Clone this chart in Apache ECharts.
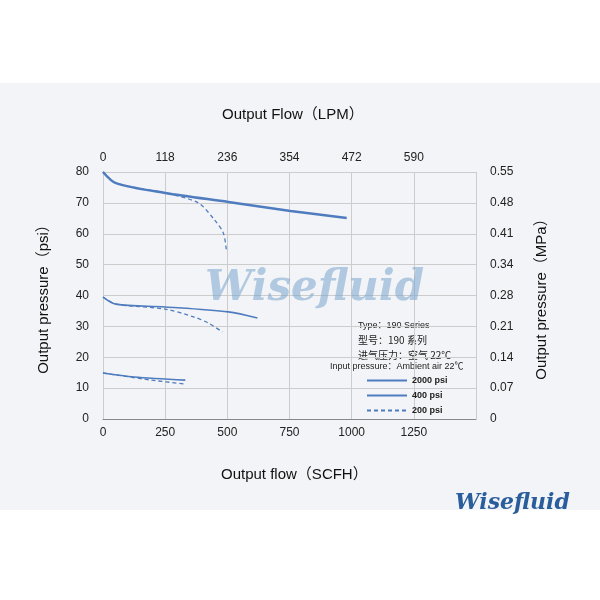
<!DOCTYPE html><html><head><meta charset="utf-8"><script src="https://cdn.jsdelivr.net/npm/echarts@6/dist/echarts.min.js"></script></head><body style="margin:0;background:#fff"><div id="c" style="width:600px;height:600px"></div><script>
const xTicksLPM=['0','118','236','354','472','590',''];
const mpaLabels=['0','0.07','0.14','0.21','0.28','0.34','0.41','0.48','0.55'];
const s2000solid=[[0,80],[52,76.4],[250,73.2],[504,70.3],[754,67.4],[980,65.1]];
const s2000dash=[[0,80],[52,76.4],[250,73.2],[383,70],[448,64.5],[484,60.2],[496,54.7]];
const s400solid=[[0,39.5],[52,37.2],[250,36.3],[504,34.7],[621,32.7]];
const s400dash=[[0,39.5],[52,37.2],[250,35.6],[367,33],[423,31.1],[480,28.2]];
const s200solid=[[0,14.9],[125,13.6],[331,12.6]];
const s200dash=[[0,14.9],[194,12.6],[335,11.3]];
const C='#4f7cbf';
const F='"Liberation Sans","Noto Sans CJK SC"';
const ch=echarts.init(document.getElementById('c'));
const ln=(name,d,w,dash)=>({name,type:'line',data:d,smooth:0.3,symbol:'none',lineStyle:{color:C,width:w,type:dash?[4,3]:'solid'},itemStyle:{color:C}});
ch.setOption({
textStyle:{fontFamily:F},
graphic:[
{type:'rect',shape:{x:0,y:83,width:600,height:427},style:{fill:'#f3f4f7'},z:-10},
{type:'text',left:222,top:107,style:{text:'Output Flow（LPM）',font:'15px '+F,fill:'#111'}},
{type:'text',left:221,top:467,style:{text:'Output flow（SCFH）',font:'15px '+F,fill:'#111'}},
{type:'text',x:205,y:268,style:{text:'Wisefluid',font:'italic bold 42px "DejaVu Serif"',fill:'rgba(120,165,205,0.55)'},z:5},
{type:'text',x:455,y:492,style:{text:'Wisefluid',font:'italic bold 22px "DejaVu Serif"',fill:'#2a5d9b'}},
{type:'text',left:358,top:321,style:{text:'Type：190 Series',font:'9px '+F,fill:'#222'}},
{type:'text',left:358,top:335,style:{text:'型号：190 系列',font:'10px "Noto Sans CJK SC"',fill:'#222'}},
{type:'text',left:358,top:350,style:{text:'进气压力：空气 22℃',font:'10px "Noto Sans CJK SC"',fill:'#222'}},
{type:'text',left:330,top:362,style:{text:'Input pressure：Ambient air 22℃',font:'9px '+F,fill:'#222'}}
],
grid:{left:103,right:124,top:172,bottom:181},
legend:{orient:'vertical',left:361,top:371,itemWidth:40,itemHeight:8,itemGap:6,itemStyle:{opacity:0},textStyle:{fontSize:9,fontWeight:'bold',color:'#222'},data:['2000 psi','400 psi','200 psi']},
xAxis:[{type:'value',min:0,max:1500,interval:250,axisLabel:{color:'#222',fontSize:12,formatter:v=>v===1500?'':v},axisLine:{lineStyle:{color:'#888'}},axisTick:{show:false},splitLine:{lineStyle:{color:'#ccc'}}},
{type:'value',position:'top',min:0,max:1500,interval:250,axisLabel:{color:'#222',fontSize:12,formatter:v=>xTicksLPM[v/250]},axisLine:{show:false},axisTick:{show:false},splitLine:{show:false}}],
yAxis:[{type:'value',min:0,max:80,interval:10,name:'Output pressure（psi）',nameLocation:'middle',nameGap:52,nameTextStyle:{fontSize:15,color:'#111'},axisLabel:{color:'#222',fontSize:12,margin:14},axisLine:{show:true,lineStyle:{color:'#888'}},axisTick:{show:false},splitLine:{lineStyle:{color:'#ccc'}}},
{type:'value',min:0,max:80,interval:10,position:'right',name:'Output pressure（MPa）',nameLocation:'middle',nameGap:58,nameRotate:90,nameTextStyle:{fontSize:15,color:'#111'},axisLabel:{color:'#222',fontSize:12,margin:14,formatter:v=>mpaLabels[v/10]},axisLine:{show:true,lineStyle:{color:'#ccc'}},axisTick:{show:false},splitLine:{show:false}}],
series:[ln('2000 psi',s2000solid,2.5),ln('200 psi',s2000dash,1.3,true),ln('400 psi',s400solid,1.6),ln('200 psi',s400dash,1.3,true),ln('400 psi',s200solid,1.6),ln('200 psi',s200dash,1.3,true)]
});
</script></body></html>
